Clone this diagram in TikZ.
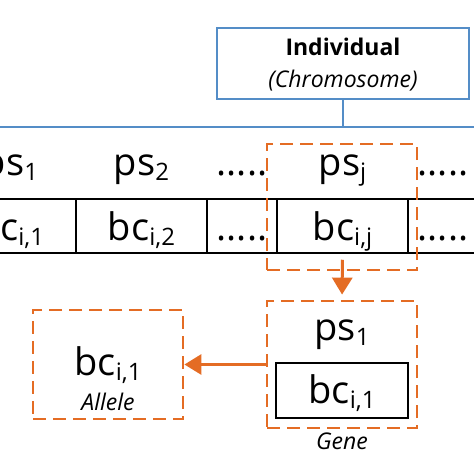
\documentclass[tikz,border=0pt]{standalone}
\usepackage{fontspec}
\setmainfont{Open Sans}
\usetikzlibrary{arrows.meta}
\definecolor{chromblue}{RGB}{84,141,199}
\definecolor{geneorange}{RGB}{228,108,36}
\newcommand\lowidx[1]{\raisebox{-5pt}{\fontsize{24}{24}\selectfont #1}}
\newcommand\bigtxt{\fontsize{38}{38}\selectfont}

\begin{document}
\begin{tikzpicture}[x=1pt,y=-1pt,
	cell/.style={draw=black, line width=1.5pt, inner sep=0pt, minimum height=54pt, text height=41pt, text depth=13pt, font=\bigtxt},
	orangebox/.style={draw=geneorange, line width=2.8pt, dash pattern=on 13pt off 7pt, inner sep=0pt},
	orangearrow/.style={geneorange, line width=3pt, -{Triangle[width=20pt,length=17pt]}},
	label/.style={anchor=base, inner sep=0pt}]
	\useasboundingbox (0,0) rectangle (474,474);
	\clip (0,0) rectangle (474,474);

	% individual / chromosome
	\node (indiv)[draw=chromblue, line width=2.2pt, minimum width=252pt, minimum height=71pt] at (343,63.5) {};
	\node (indivname)[label, font=\fontsize{23}{23}\selectfont\bfseries] at (343,55) {Individual};
	\node (indivsub)[label, font=\fontsize{23}{23}\selectfont\itshape] at (343,87) {(Chromosome)};
	\coordinate (busL) at (-5,127);
	\coordinate (busR) at (480,127);
	\draw[chromblue, line width=2.2pt] (busL) -- (busR);
	\draw[chromblue, line width=2.2pt] (indiv.south) -- (indiv.south |- busL);

	% positions above the cells
	\node (ps1)[label, font=\bigtxt] at (10.5,175) {ps\lowidx{1}};
	\node (ps2)[label, font=\bigtxt] at (141.5,175) {ps\lowidx{2}};
	\node (psdotsA)[label, font=\bigtxt] at (242,175) {.....};
	\node (psj)[label, font=\bigtxt] at (342.5,175) {ps\lowidx{j}};
	\node (psdotsB)[label, font=\bigtxt] at (443,175) {.....};

	% the chromosome cells
	\node (c1)[cell, minimum width=131pt] at (10.5,226) {bc\lowidx{i,1}};
	\node (c2)[cell, minimum width=131pt] at (141.5,226) {bc\lowidx{i,2}};
	\node (c3)[cell, minimum width=70pt] at (242,226) {.....};
	\node (cj)[cell, minimum width=131pt] at (342.5,226) {bc\lowidx{i,j}};
	\node (c5)[cell, minimum width=70pt] at (443,226) {.....};

	\node (selgene)[orangebox, minimum width=150pt, minimum height=126pt] at (342,207) {};

	% gene
	\node (gene)[orangebox, minimum width=150pt, minimum height=127pt] at (342,364.5) {};
	\node (geneps)[label, font=\bigtxt] at (342,340) {ps\lowidx{1}};
	\node (genebc)[cell, minimum width=132pt, minimum height=55pt, text height=40pt, text depth=15pt] at (342,390.5) {bc\lowidx{i,1}};
	\node (genename)[label, font=\fontsize{23}{23}\selectfont\itshape] at (342,449) {Gene};

	% allele
	\node (allele)[orangebox, minimum width=150pt, minimum height=109pt] at (108,364.5) {};
	\node (allelebc)[label, font=\bigtxt] at (108,375) {bc\lowidx{i,1}};
	\node (allelename)[label, font=\fontsize{23}{23}\selectfont\itshape] at (108,410) {Allele};

	\draw[orangearrow, shorten <=6pt, shorten >=5pt] (cj.south) -- (gene.north);
	\draw[orangearrow] (gene.west) -- (allele.east);
\end{tikzpicture}
\end{document}
